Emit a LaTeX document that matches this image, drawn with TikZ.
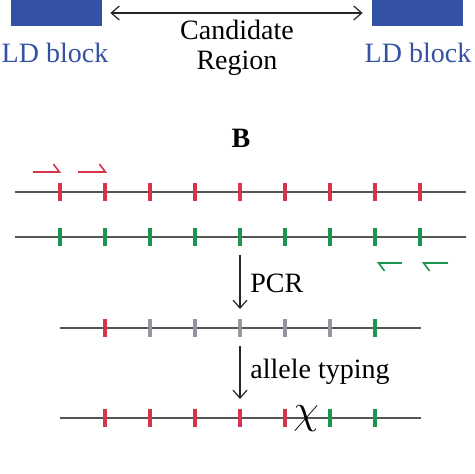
\documentclass[tikz,border=0pt]{standalone}
\usepackage{fontspec}
\setmainfont{LiberationSerif}[Extension=.ttf, UprightFont=*-Regular, BoldFont=*-Bold, ItalicFont=*-Italic, BoldItalicFont=*-BoldItalic]
\usepackage{tikz}
\usetikzlibrary{arrows.meta, positioning}
\definecolor{ldblue}{RGB}{52,82,163}
\definecolor{snpred}{RGB}{214,52,72}
\definecolor{snpgreen}{RGB}{26,150,82}
\definecolor{snpgrey}{RGB}{150,150,160}
\definecolor{strandgrey}{RGB}{85,85,85}

\begin{document}
\begin{tikzpicture}[
  x=0.5pt, y=-0.5pt,
  txt/.style={font=\rmfamily\fontsize{14}{15}\selectfont, inner sep=0pt, align=center},
  ldbox/.style={rectangle, fill=ldblue, minimum width=45.5pt, minimum height=13pt, inner sep=0pt},
  strand/.style={draw=strandgrey, line width=1pt},
  snp/.style={line width=1.6pt},
  primer/.style={line width=0.8pt, -{Straight Barb[left, length=3pt, width=8pt]}},
  flow/.style={draw=black!85, line width=0.6pt, -{Straight Barb[length=4pt, width=7pt]}},
  span/.style={draw=black!85, line width=0.6pt,
    {Straight Barb[length=4pt, width=7pt]}-{Straight Barb[length=4pt, width=7pt]}}
]
\useasboundingbox (0,0) rectangle (474,474);

% ===== Part A: LD blocks and candidate region =====
\node[ldbox] (ldl) at (56.5,13) {};
\node[ldbox] (ldr) at (417.5,13) {};
\node[txt, text=ldblue] (ldltxt) at (55,53) {LD block};
\node[txt, text=ldblue] (ldrtxt) at (418,53) {LD block};
\draw[span, shorten <=4pt, shorten >=4.5pt] (ldl.east) -- (ldr.west);
\node[txt] (cand) at (237,48) {Candidate\\Region};

% ===== Part B =====
\node[txt, font=\rmfamily\fontsize{14}{15}\selectfont\bfseries] (partb) at (241,138) {B};

% two parental strands
\coordinate (r1a) at (15,192);  \coordinate (r1b) at (466,192);
\coordinate (r2a) at (15,237);  \coordinate (r2b) at (466,237);
\draw[strand] (r1a) -- (r1b);
\draw[strand] (r2a) -- (r2b);
\foreach \x in {60,105,...,420} {
  \draw[snp, snpred]   (\x,183) -- (\x,201);
  \draw[snp, snpgreen] (\x,228) -- (\x,246);
}

% primers
\coordinate (pf1) at (33,172);  \coordinate (pf1e) at (61,172);
\coordinate (pf2) at (78,172);  \coordinate (pf2e) at (107,172);
\draw[primer, snpred] (pf1) -- (pf1e);
\draw[primer, snpred] (pf2) -- (pf2e);
\coordinate (pr1) at (402,263); \coordinate (pr1e) at (377,263);
\coordinate (pr2) at (448,263); \coordinate (pr2e) at (422,263);
\draw[primer, snpgreen] (pr1) -- (pr1e);
\draw[primer, snpgreen] (pr2) -- (pr2e);

% PCR step
\coordinate (pcra) at (240,255); \coordinate (pcrb) at (240,309);
\draw[flow] (pcra) -- (pcrb);
\node[txt, anchor=west] (pcr) at (250,283) {PCR};

% amplified product
\coordinate (r3a) at (60,328);  \coordinate (r3b) at (421,328);
\draw[strand] (r3a) -- (r3b);
\draw[snp, snpred] (105,319) -- (105,337);
\foreach \x in {150,195,...,330}
  \draw[snp, snpgrey] (\x,319) -- (\x,337);
\draw[snp, snpgreen] (375,319) -- (375,337);

% allele typing step
\coordinate (typa) at (240,346); \coordinate (typb) at (240,399);
\draw[flow] (typa) -- (typb);
\node[txt, anchor=west] (typing) at (250,372) {allele typing};

% typed haplotype with crossover
\coordinate (r4a) at (60,418);  \coordinate (r4b) at (421,418);
\draw[strand] (r4a) -- (r4b);
\foreach \x in {105,150,...,285}
  \draw[snp, snpred] (\x,409) -- (\x,427);
\foreach \x in {330,375}
  \draw[snp, snpgreen] (\x,409) -- (\x,427);
\node[txt, font=\fontsize{20}{20}\selectfont, inner sep=0.3pt] (chi) at (306,419) {$\chi$};

\end{tikzpicture}
\end{document}
